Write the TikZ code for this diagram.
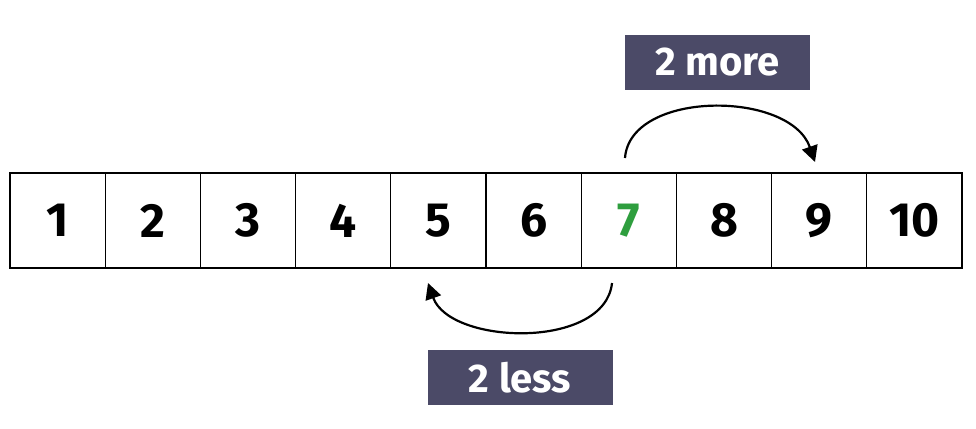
\documentclass[tikz,border=0pt]{standalone}
\usepackage{fontspec}
\setmainfont{Fira Sans}
\usetikzlibrary{arrows.meta}
\definecolor{lab}{HTML}{4B4A67}
\definecolor{grn}{HTML}{2E9E3E}
\tikzset{cell/.style={draw,line width=1.3pt,minimum width=95.2pt,minimum height=95pt,inner sep=0pt,font=\fontsize{48}{48}\bfseries\selectfont},
 tag/.style={fill=lab,text=white,minimum width=185pt,minimum height=55pt,inner sep=0pt,font=\fontsize{40}{40}\bfseries\selectfont},
 arr/.style={line width=2.2pt,-{Triangle[length=16pt,width=16pt]}}}
\begin{document}
\begin{tikzpicture}[x=1pt,y=-1pt]
\useasboundingbox[fill=white] (0,0) rectangle (976,428);
\foreach \i in {1,...,10}{
  \node[cell] (c\i) at ({10+95.2*(\i-0.5)},220.5) {\ifnum\i=7 \textcolor{grn}{7}\else\i\fi};
}
\node[tag] (more) at (717.5,62.5) {2 more};
\node[tag] (less) at (520,377.5) {2 less};
\coordinate (a1) at (625,158);
\coordinate (a2) at (815,162);
\coordinate (b1) at (612,283);
\coordinate (b2) at (428,283);
\draw[arr] (a1) .. controls (630,90) and (790,90) .. (a2);
\draw[arr] (b1) .. controls (605,350) and (450,345) .. (b2);
\end{tikzpicture}
\end{document}
